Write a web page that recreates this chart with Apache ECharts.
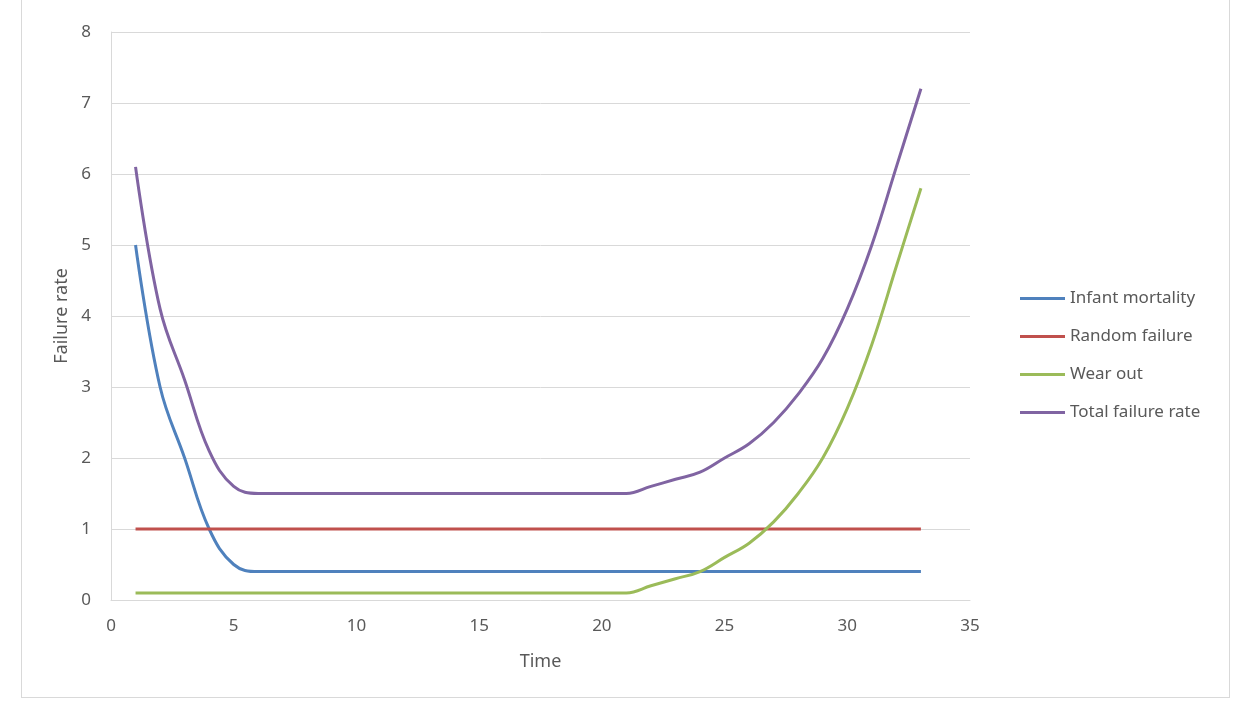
<!DOCTYPE html>
<html>
<head>
<meta charset="utf-8">
<script src="https://cdn.jsdelivr.net/npm/echarts@6/dist/echarts.min.js"></script>
<style>
  html, body { margin: 0; padding: 0; background: #fff; overflow: hidden; }
  #frame { position: absolute; left: 21px; top: -20px; width: 1207px; height: 716px; border: 1px solid #d9d9d9; }
  #main { position: absolute; left: 0; top: 0; width: 1245px; height: 701px; }
</style>
</head>
<body>
<div id="frame"></div>
<div id="main"></div>
<script>
// time points
var time = [1, 2, 3, 4, 5, 6, 7, 8, 9, 10, 11, 12, 13, 14, 15, 16, 17,
            18, 19, 20, 21, 22, 23, 24, 25, 26, 27, 28, 29, 30, 31, 32, 33];
// failure rates
var infant = [5.0, 3.0, 2.0, 1.0, 0.5, 0.4, 0.4, 0.4, 0.4, 0.4, 0.4, 0.4, 0.4, 0.4, 0.4, 0.4, 0.4,
              0.4, 0.4, 0.4, 0.4, 0.4, 0.4, 0.4, 0.4, 0.4, 0.4, 0.4, 0.4, 0.4, 0.4, 0.4, 0.4];
var random = [1, 1, 1, 1, 1, 1, 1, 1, 1, 1, 1, 1, 1, 1, 1, 1, 1,
              1, 1, 1, 1, 1, 1, 1, 1, 1, 1, 1, 1, 1, 1, 1, 1];
var wearOut = [0.1, 0.1, 0.1, 0.1, 0.1, 0.1, 0.1, 0.1, 0.1, 0.1, 0.1, 0.1, 0.1, 0.1, 0.1, 0.1, 0.1,
               0.1, 0.1, 0.1, 0.1, 0.2, 0.3, 0.4, 0.6, 0.8, 1.1, 1.5, 2.0, 2.7, 3.6, 4.7, 5.8];
var total = [6.1, 4.1, 3.1, 2.1, 1.6, 1.5, 1.5, 1.5, 1.5, 1.5, 1.5, 1.5, 1.5, 1.5, 1.5, 1.5, 1.5,
             1.5, 1.5, 1.5, 1.5, 1.6, 1.7, 1.8, 2.0, 2.2, 2.5, 2.9, 3.4, 4.1, 5.0, 6.1, 7.2];

var seriesNames = ['Infant mortality', 'Random failure', 'Wear out', 'Total failure rate'];
var seriesColors = ['#4f81bd', '#c0504d', '#9bbb59', '#8064a2'];
var seriesValues = [infant, random, wearOut, total];

function pairs(vals) {
    return time.map(function (t, i) { return [t, vals[i]]; });
}

var font = '"Noto Sans", "Open Sans", sans-serif';
var chart = echarts.init(document.getElementById('main'));

chart.setOption({
    animation: false,
    textStyle: { fontFamily: font },
    grid: { left: 111, right: 275, top: 32, bottom: 101 },
    legend: {
        orient: 'vertical',
        left: 1015,
        top: 285,
        icon: 'rect',
        itemWidth: 45,
        itemHeight: 3,
        itemGap: 21,
        textStyle: { color: '#595959', fontSize: 17, fontFamily: font },
        data: seriesNames
    },
    xAxis: {
        type: 'value',
        min: 0,
        max: 35,
        interval: 5,
        name: 'Time',
        nameLocation: 'middle',
        nameGap: 53,
        nameTextStyle: { color: '#595959', fontSize: 18 },
        axisLine: { lineStyle: { color: '#d9d9d9' } },
        axisTick: { show: false },
        axisLabel: { color: '#595959', fontSize: 17, margin: 18 },
        splitLine: { show: false }
    },
    yAxis: {
        type: 'value',
        min: 0,
        max: 8,
        interval: 1,
        name: 'Failure rate',
        nameLocation: 'middle',
        nameGap: 40,
        nameTextStyle: { color: '#595959', fontSize: 18 },
        axisLine: { show: true, lineStyle: { color: '#d9d9d9' } },
        axisTick: { show: false },
        axisLabel: { color: '#595959', fontSize: 17, margin: 20 },
        splitLine: { lineStyle: { color: '#d9d9d9' } }
    },
    series: seriesNames.map(function (name, i) {
        return {
            name: name,
            type: 'line',
            smooth: 0.4,
            symbol: 'none',
            color: seriesColors[i],
            lineStyle: { width: 3, color: seriesColors[i] },
            data: pairs(seriesValues[i])
        };
    })
});
</script>
</body>
</html>
